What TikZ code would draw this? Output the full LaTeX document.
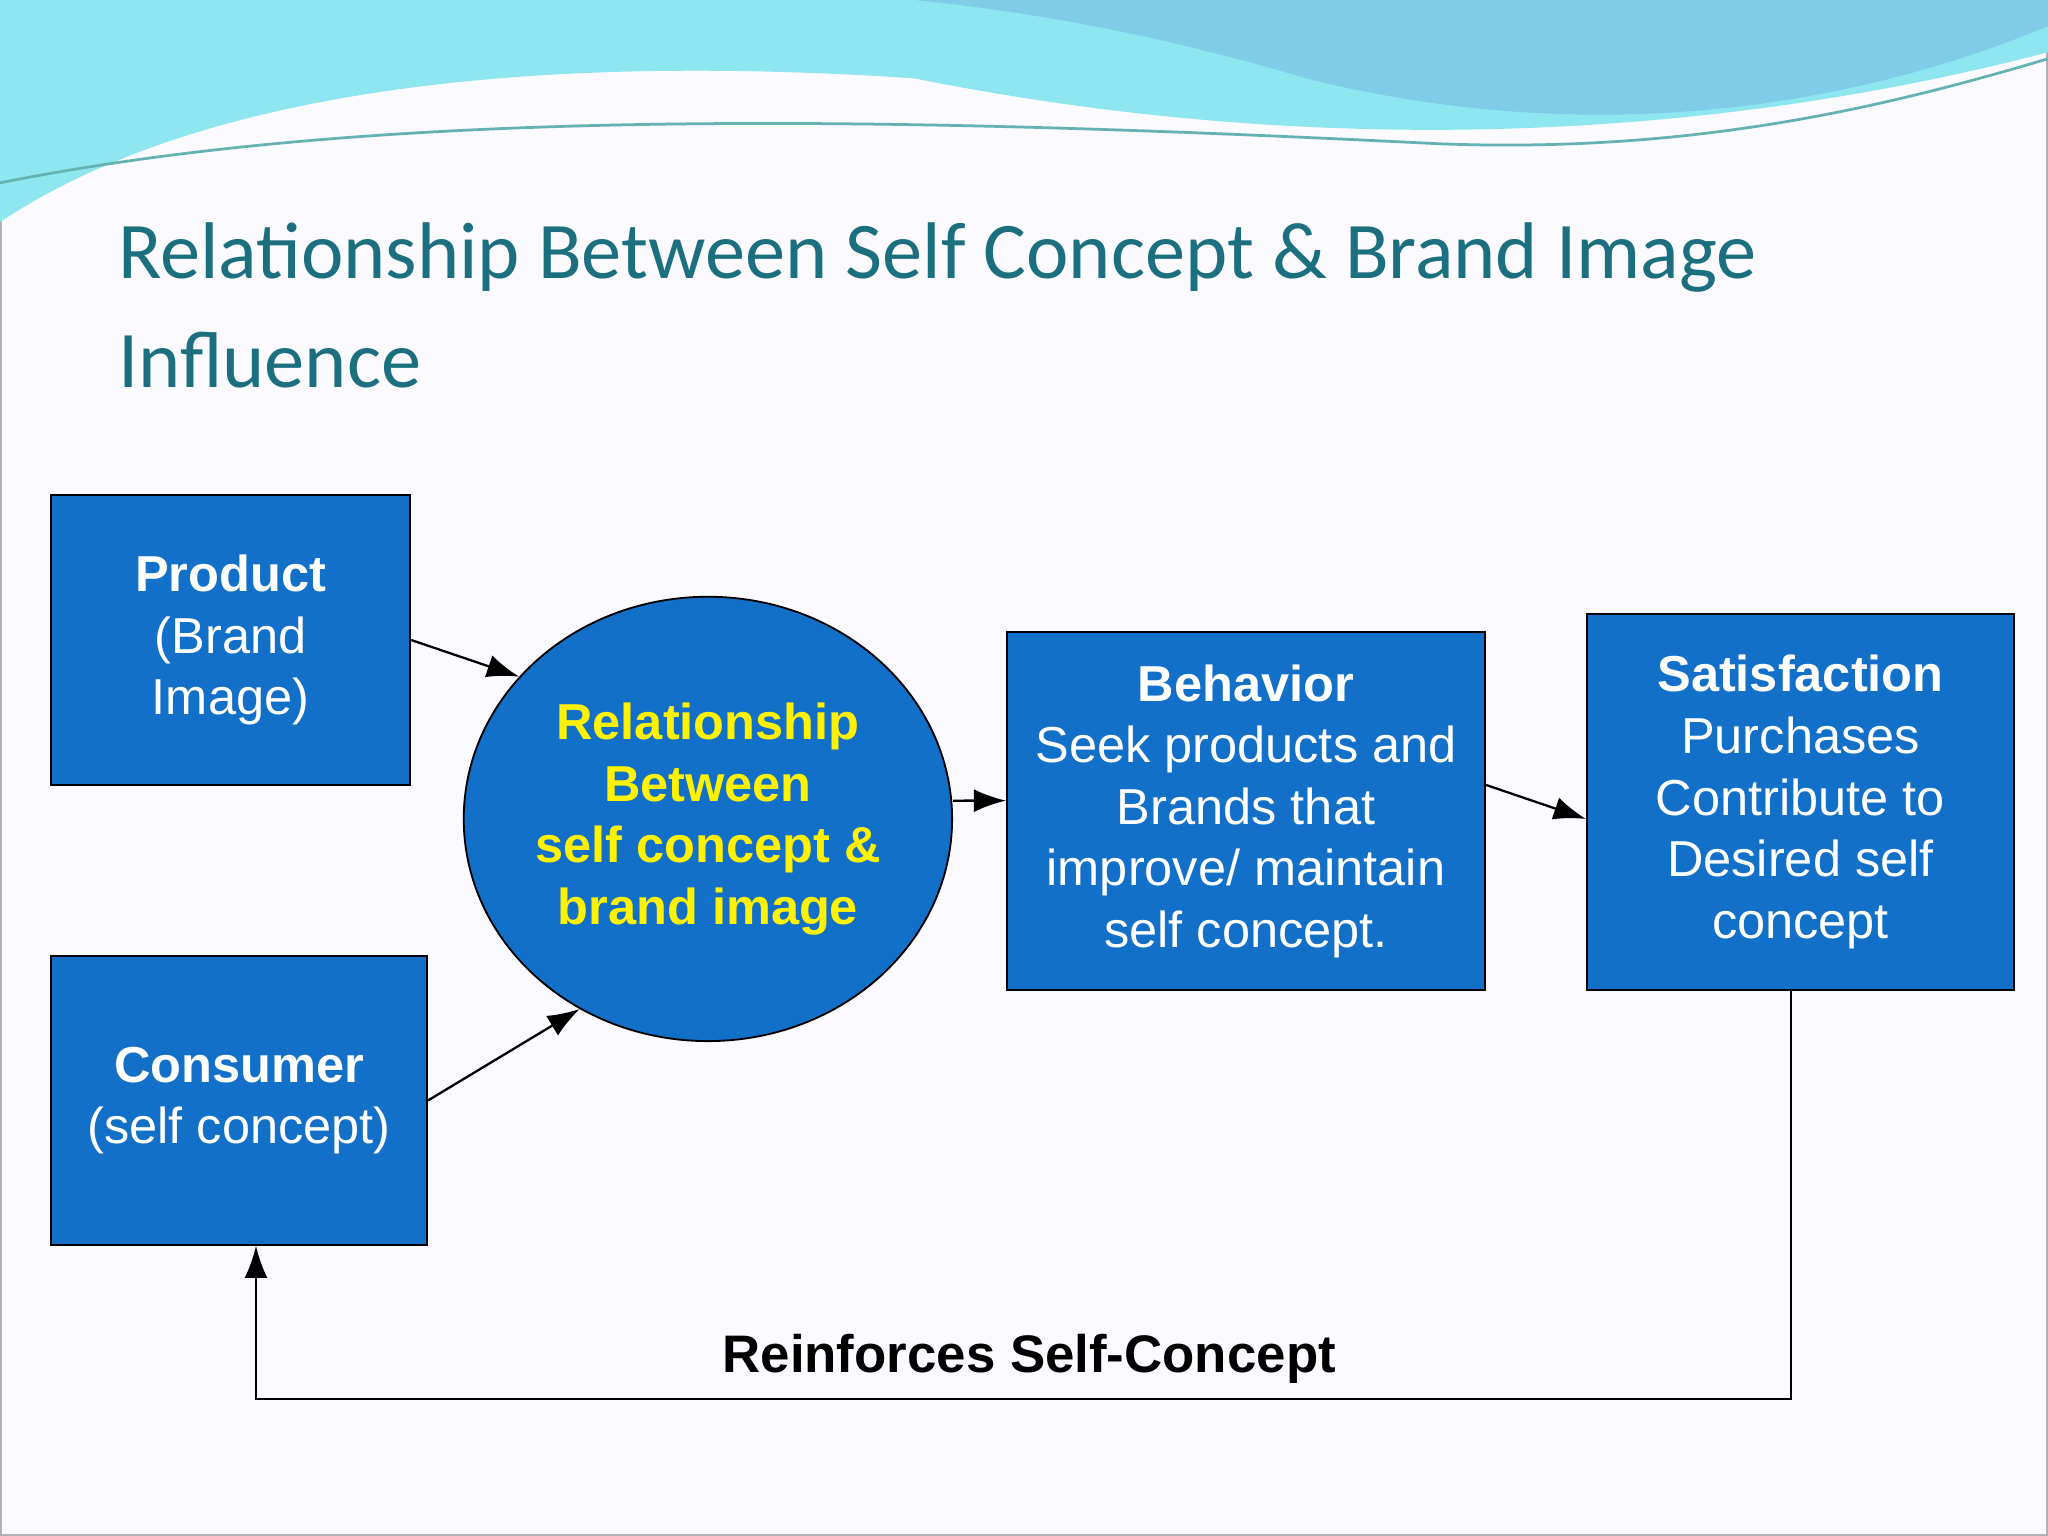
\documentclass[tikz,border=0pt]{standalone}
\usepackage{fontspec}
\setmainfont{Liberation Sans}
\newfontfamily\titlefont{Carlito}
\usetikzlibrary{shapes.geometric,arrows.meta}
\definecolor{boxblue}{HTML}{1270C8}
\definecolor{titleteal}{HTML}{1B6F7F}
\definecolor{wavea}{HTML}{8EE6F0}
\definecolor{waveb}{HTML}{7FCBE8}
\tikzset{
  blockbox/.style={draw=black, fill=boxblue, text=white, align=center, inner sep=0pt,
    font=\fontsize{11}{13.4}\selectfont},
  flowarrow/.style={-{Latex[length=7pt,width=5pt]}, black, line width=0.5pt},
}
\begin{document}
\begin{tikzpicture}[x=0.01cm,y=-0.01cm]
		\useasboundingbox (0,0) rectangle (1568,1176);
		\fill[white!95!blue!40] (0,0) rectangle (1568,1176);
		\draw[gray!60] (1,1) rectangle (1567,1175);
		% waves on top
		\fill[wavea] (0,0) -- (1568,0) -- (1568,40) .. controls (1300,110) and (1000,120) .. (700,60) .. controls (400,40) and (150,70) .. (0,170) -- cycle;
		\fill[waveb] (700,0) -- (1568,0) -- (1568,20) .. controls (1400,90) and (1200,110) .. (1000,60) .. controls (900,30) and (800,10) .. cycle;
		\draw[teal!60, line width=0.6pt] (0,140) .. controls (300,80) and (700,90) .. (1100,110) .. controls (1300,118) and (1450,80) .. (1568,45);
		% title
		\node[anchor=base west, text=titleteal, font=\titlefont\fontsize{17.5}{24}\selectfont] (title1) at (78,213) {Relationship Between Self Concept \& Brand Image};
		\node[anchor=base west, text=titleteal, font=\titlefont\fontsize{17.5}{24}\selectfont] (title2) at (78,297) {Influence};
		% blocks
		\node[blockbox, minimum width=275\pgflinewidth, text width=2.6cm, minimum width=2.75cm, minimum height=2.22cm] (product) at (176.5,490) {\textbf{Product}\\(Brand\\Image)};
		\node[blockbox, minimum width=2.88cm, minimum height=2.21cm] (consumer) at (183,842.5) {\textbf{Consumer}\\(self concept)};
		\node[blockbox, ellipse, minimum width=3.52cm, minimum height=3.40cm, text=yellow] (relation) at (542,627) {\textbf{Relationship}\\\textbf{Between}\\\textbf{self concept \&}\\\textbf{brand image}};
		\node[blockbox, minimum width=3.66cm, minimum height=2.74cm] (behavior) at (954,621) {\textbf{Behavior}\\Seek products and\\Brands that\\improve/ maintain\\self concept.};
		\node[blockbox, minimum width=3.27cm, minimum height=2.88cm] (satisfy) at (1378.5,614) {\textbf{Satisfaction}\\Purchases\\Contribute to\\Desired self\\concept};
		% connectors
		\coordinate (cornerR) at (1371,1071);
		\coordinate (cornerL) at (196,1071);
		\draw[flowarrow] (product.east) -- (relation.143);
		\draw[flowarrow] (consumer.east) -- (relation.236);
		\draw[flowarrow] (relation.east |- behavior.west) ++(0,-8) -- ([yshift=0.08cm]behavior.west);
		\draw[flowarrow] (behavior.east |- satisfy.west) ++(0,-13) -- ([yshift=-0.13cm]satisfy.west);
		\draw[flowarrow] (satisfy.south -| cornerR) -- (cornerR) -- (cornerL) -- (consumer.south -| cornerL);
		\node[font=\fontsize{11.5}{14}\selectfont\bfseries] (reinforce) at (788,1040) {Reinforces Self-Concept};
	\end{tikzpicture}
\end{document}
